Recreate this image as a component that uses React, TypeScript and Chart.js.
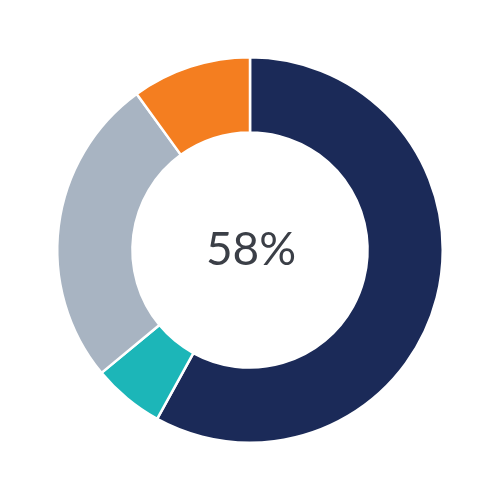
import { useEffect, useRef } from "react"
import { Chart, registerables } from "chart.js"
import type { Plugin } from "chart.js"

Chart.register(...registerables)

// segments clockwise from 12 o'clock
const labels = ["Navy", "Teal", "Gray", "Orange"]
const values = [58, 6, 26, 10]
const colors = ["#1b2a58", "#1cb6b8", "#a8b4c2", "#f47e20"]
const centerLabel = "58%"

const centerText: Plugin<"doughnut"> = {
  id: "centerText",
  afterDraw(chart) {
    const meta = chart.getDatasetMeta(0)
    const arc = meta.data[0] as any
    if (!arc) return
    const ctx = chart.ctx
    ctx.save()
    ctx.font = "46px Lato"
    ctx.fillStyle = "#3b3f47"
    ctx.textAlign = "center"
    ctx.textBaseline = "middle"
    ctx.fillText(centerLabel, arc.x + 1, arc.y)
    ctx.restore()
  },
}

export default function App() {
  const canvasRef = useRef<HTMLCanvasElement | null>(null)

  useEffect(() => {
    document.body.style.margin = "0"
    if (!canvasRef.current) return
    const chart = new Chart(canvasRef.current, {
      type: "doughnut",
      data: {
        labels,
        datasets: [
          {
            data: values,
            backgroundColor: colors,
            borderColor: "#ffffff",
            borderWidth: 2.5,
          },
        ],
      },
      options: {
        responsive: true,
        maintainAspectRatio: false,
        animation: false,
        cutout: "61%",
        layout: { padding: 56 },
        plugins: {
          legend: { display: false },
          tooltip: { enabled: false },
        },
      },
      plugins: [centerText],
    })
    return () => chart.destroy()
  }, [])

  return (
    <div style={{ position: "relative", width: 500, height: 500 }}>
      <canvas ref={canvasRef}></canvas>
    </div>
  )
}
